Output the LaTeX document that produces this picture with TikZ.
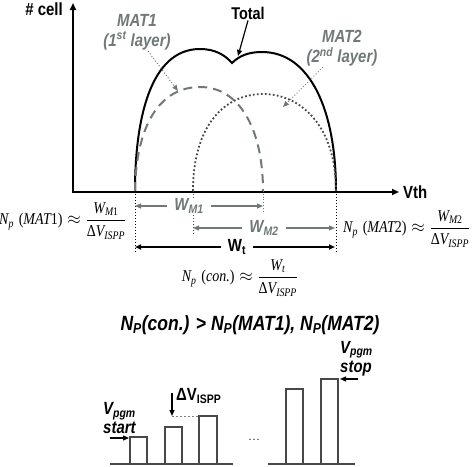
\documentclass[tikz,border=0pt]{standalone}
\usepackage{amsmath}
\usepackage{fontspec}
\setsansfont{Liberation Sans}[FakeStretch=0.85]
\newfontfamily\eqfont{Liberation Serif}[FakeStretch=0.85]
\newcommand{\ti}[1]{\text{\eqfont\itshape #1}}
\newcommand{\tu}[1]{\text{\eqfont #1}}
\usetikzlibrary{arrows.meta}
\definecolor{matgray}{RGB}{112,120,120}
\definecolor{pulsegray}{RGB}{72,72,72}
\begin{document}
\begin{tikzpicture}[x=1pt, y=-1pt,
    lbl/.style={font=\fontsize{17.6}{19}\selectfont\sffamily\bfseries, inner sep=1pt},
    mat/.style={font=\fontsize{17.6}{20}\selectfont\sffamily\bfseries\itshape, text=matgray, align=center, inner sep=1pt},
    wlbl/.style={font=\fontsize{17.6}{19}\selectfont\sffamily\bfseries, fill=white, inner xsep=7pt, inner ysep=0pt},
    vlbl/.style={font=\fontsize{17.6}{19}\selectfont\sffamily\bfseries\itshape, inner sep=0pt, align=left},
    eqn/.style={font=\fontsize{16.5}{18}\selectfont, inner sep=0pt},
    guide/.style={dotted, line width=1pt},
    tip/.style={-{Triangle[length=6pt,width=5pt]}},
    pulse/.style={draw=pulsegray, line width=1.4pt}]

    \useasboundingbox (0,0) rectangle (474,466);

    % axes
    \coordinate (ytop) at (73,3);
    \coordinate (O) at (73,192);
    \coordinate (xend) at (399,192);
    \draw[line width=1.8pt, {Triangle[length=7pt,width=6pt]}-{Triangle[length=7pt,width=6pt]}] (ytop) -- (O) -- (xend);
    \node[lbl, anchor=east] (ylab) at (64,9) {\# cell};
    \node[lbl, anchor=west] (xlab) at (402,192) {Vth};

    % distributions
    \coordinate (a) at (135,191);
    \coordinate (b) at (193,191);
    \coordinate (c) at (263,191);
    \coordinate (d) at (336,191);
    \draw[line width=2pt] (a) .. controls (135,120) and (150,49) .. (200,49)
        .. controls (215,49) and (225,55) .. (232,63)
        .. controls (240,55) and (250,52) .. (262,52)
        .. controls (310,52) and (336,110) .. (d);
    \draw[matgray, line width=2pt, dash pattern=on 9pt off 6pt] (a) .. controls (136,125) and (160,87) .. (200,87)
        .. controls (240,87) and (263,130) .. (c);
    \draw[pulsegray, line width=1.8pt, dash pattern=on 1.8pt off 2.2pt] (b) .. controls (193,125) and (225,94) .. (263,94)
        .. controls (300,94) and (336,125) .. (d);

    % labels of the curves
    \node[lbl, font=\fontsize{17}{19}\selectfont\sffamily\bfseries] (total) at (248,13) {Total};
    \coordinate (dipaim) at (238,56);
    \draw[line width=1.2pt, tip] (total.south) -- (dipaim);
    \node[mat] (mat1) at (137,32) {MAT1\\(1\textsuperscript{st} layer)};
    \coordinate (m1aim) at (178,91);
    \draw[matgray, dotted, line width=1pt, tip] (mat1.-60) -- (m1aim);
    \node[mat] (mat2) at (342,48) {MAT2\\(2\textsuperscript{nd} layer)};
    \coordinate (m2aim) at (283,107);
    \draw[matgray, dotted, line width=1pt, tip] (mat2.-135) -- (m2aim);

    % guides
    \coordinate (ga) at (135,253);
    \coordinate (gb) at (193,236);
    \coordinate (gc) at (263,212);
    \coordinate (gd) at (336,254);
    \draw[guide] (a) -- (ga);
    \draw[guide, pulsegray] (b) -- (gb);
    \draw[guide, matgray, line width=0.8pt] (c) -- (gc);
    \draw[guide] (d) -- (gd);

    % widths
    \node[wlbl, text=matgray, font=\fontsize{17.6}{19}\selectfont\sffamily\bfseries\itshape] (wm1) at (189,206) {W\textsubscript{M1}};
    \coordinate (wm1l) at (135,206);
    \coordinate (wm1r) at (263,206);
    \draw[matgray, line width=1.2pt, tip] (wm1) -- (wm1l);
    \draw[matgray, line width=1.2pt, tip] (wm1) -- (wm1r);
    \node[wlbl, text=matgray, font=\fontsize{17.6}{19}\selectfont\sffamily\bfseries\itshape] (wm2) at (264,228) {W\textsubscript{M2}};
    \coordinate (wm2l) at (193,228);
    \coordinate (wm2r) at (335,228);
    \draw[matgray, line width=1.2pt, tip] (wm2) -- (wm2l);
    \draw[matgray, line width=1.2pt, tip] (wm2) -- (wm2r);
    \node[wlbl] (wt) at (237,247) {W\textsubscript{t}};
    \coordinate (wtl) at (135,247);
    \coordinate (wtr) at (335,247);
    \draw[line width=1.5pt, tip] (wt) -- (wtl);
    \draw[line width=1.5pt, tip] (wt) -- (wtr);

    % pulse counts
    \node[eqn, anchor=west] (eq1) at (-1,221)
        {$\ti{N}_{\ti{p}}\;\tu{(}\ti{MAT}\tu{1)} \approx \dfrac{\ti{W}_{\ti{M}\tu{1}}}{\tu{Δ}\ti{V}_{\ti{ISPP}}}$};
    \node[eqn, anchor=west] (eq2) at (343,229)
        {$\ti{N}_{\ti{p}}\;\tu{(}\ti{MAT}\tu{2)} \approx \dfrac{\ti{W}_{\ti{M}\tu{2}}}{\tu{Δ}\ti{V}_{\ti{ISPP}}}$};
    \node[eqn] (eq3) at (240,278)
        {$\ti{N}_{\ti{p}}\;\tu{(}\ti{con.}\tu{)} \approx \dfrac{\ti{W}_{\ti{t}}}{\tu{Δ}\ti{V}_{\ti{ISPP}}}$};
    \node[lbl, font=\fontsize{20.6}{22}\selectfont\sffamily\bfseries\itshape] (cmp) at (250,325)
        {N\textsubscript{P}(con.) > N\textsubscript{P}(MAT1), N\textsubscript{P}(MAT2)};

    % ISPP pulse train
    \draw[pulsegray, line width=2pt] (110,464) -- (233,464);
    \draw[pulsegray, line width=2pt] (268,464) -- (355,464);
    \foreach \l/\r/\t [count=\n] in {130/147/437, 165/182/427, 199/217/416, 286/303/389, 321/338/379} {
        \draw[pulse] (\l,464) -- (\l,\t) -- (\r,\t) -- (\r,464);
        \coordinate (pulse\n) at (\l,\t);
    }
    \node[vlbl, anchor=south west] (vstart) at (103,434) {V\textsubscript{pgm}\\start};
    \coordinate (sa) at (110,438);
    \coordinate (sb) at (129,438);
    \draw[line width=1.2pt, tip] (sa) -- (sb);
    \node[vlbl, font=\fontsize{17.6}{19}\selectfont\sffamily\bfseries, anchor=west] (dv) at (176,396) {ΔV\textsubscript{ISPP}};
    \coordinate (dvtop) at (172,393);
    \coordinate (dvbot) at (172,416);
    \draw[line width=1.2pt, tip] (dvtop) -- (dvbot);
    \draw[gray, line width=0.6pt, dash pattern=on 2pt off 2pt] (dvbot) -- (pulse3);
    \node (dots) at (254,440) {\fontsize{16}{18}\selectfont ...};
    \node[vlbl, anchor=south west] (vstop) at (340,376) {V\textsubscript{pgm}\\stop};
    \coordinate (eb) at (358,379);
    \coordinate (ea) at (340,379);
    \draw[line width=1.2pt, tip] (eb) -- (ea);
\end{tikzpicture}
\end{document}
